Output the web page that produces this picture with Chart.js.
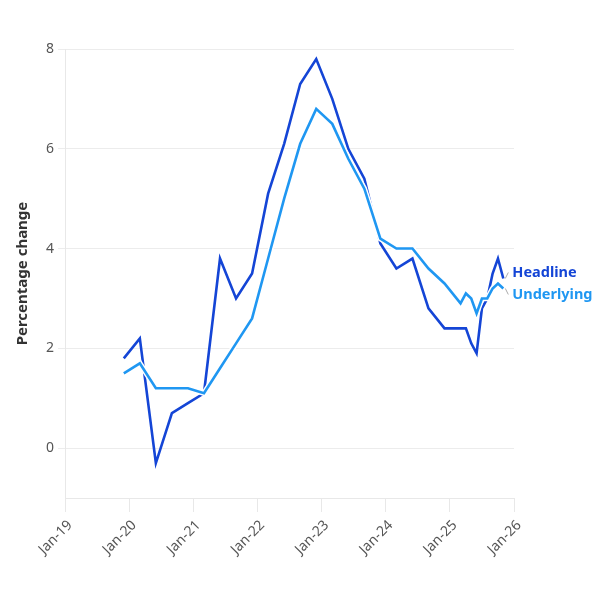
<!DOCTYPE html>
<html>
<head>
<meta charset="utf-8">
<script src="https://cdn.jsdelivr.net/npm/chart.js@4.4.1/dist/chart.umd.min.js"></script>
<style>
  html, body { margin: 0; padding: 0; background: #fff; }
  #wrap { width: 600px; height: 600px; }
</style>
</head>
<body>
<div id="wrap"><canvas id="chart"></canvas></div>
<script>
// quarterly to Mar-25, monthly after that
const months = [
    '2019-12', '2020-03', '2020-06', '2020-09', '2020-12',
    '2021-03', '2021-06', '2021-09', '2021-12',
    '2022-03', '2022-06', '2022-09', '2022-12',
    '2023-03', '2023-06', '2023-09', '2023-12',
    '2024-03', '2024-06', '2024-09', '2024-12',
    '2025-03', '2025-04', '2025-05', '2025-06', '2025-07',
    '2025-08', '2025-09', '2025-10', '2025-11'
];
const headline = [
    1.8, 2.2, -0.3, 0.7, 0.9,
    1.1, 3.8, 3.0, 3.5,
    5.1, 6.1, 7.3, 7.8,
    7.0, 6.0, 5.4, 4.1,
    3.6, 3.8, 2.8, 2.4,
    2.4, 2.4, 2.1, 1.9, 2.8,
    3.0, 3.5, 3.8, 3.4
];
const underlying = [
    1.5, 1.7, 1.2, 1.2, 1.2,
    1.1, 1.6, 2.1, 2.6,
    3.8, 5.0, 6.1, 6.8,
    6.5, 5.8, 5.2, 4.2,
    4.0, 4.0, 3.6, 3.3,
    2.9, 3.1, 3.0, 2.7, 3.0,
    3.0, 3.2, 3.3, 3.2
];
const yearTicks = [2019, 2020, 2021, 2022, 2023, 2024, 2025, 2026];

const HEAD_COLOR = '#1445d6';
const UNDER_COLOR = '#1f97f2';
const FONT = "'Noto Sans', 'Open Sans', sans-serif";

function toYear(m) {
    const [y, mo] = m.split('-').map(Number);
    return y + (mo - 1) / 12;
}

function series(values) {
    return values.map((v, i) => ({ x: toYear(months[i]), y: v }));
}

// labels at the end of each line, pushed apart if they collide
const endLabels = {
    id: 'endLabels',
    afterDatasetsDraw(chart) {
        const ctx = chart.ctx;
        const xs = chart.scales.x;
        const ys = chart.scales.y;
        const last = months.length - 1;
        const px = xs.getPixelForValue(toYear(months[last]));
        const hy = ys.getPixelForValue(headline[last]);
        const uy = ys.getPixelForValue(underlying[last]);
        let hl = hy, ul = uy;
        const gap = 22;
        if (Math.abs(ul - hl) < gap) {
            const mid = (hl + ul) / 2;
            hl = mid - gap / 2;
            ul = mid + gap / 2;
        }
        const items = [
            { text: 'Headline', color: HEAD_COLOR, py: hy, ly: hl },
            { text: 'Underlying', color: UNDER_COLOR, py: uy, ly: ul }
        ];
        ctx.save();
        ctx.font = 'bold 14.5px ' + FONT;
        ctx.textBaseline = 'middle';
        ctx.textAlign = 'left';
        items.forEach(it => {
            ctx.strokeStyle = '#aaaaaa';
            ctx.lineWidth = 1;
            ctx.beginPath();
            ctx.moveTo(px + 2, it.py);
            ctx.lineTo(px + 5, it.ly);
            ctx.stroke();
            ctx.fillStyle = it.color;
            ctx.fillText(it.text, px + 9, it.ly);
        });
        ctx.restore();
    }
};

new Chart(document.getElementById('chart'), {
    type: 'line',
    data: {
        datasets: [
            {
                label: 'Headline',
                data: series(headline),
                borderColor: HEAD_COLOR,
                borderWidth: 2.6,
                pointRadius: 0,
                tension: 0,
                order: 3
            },
            {
                label: 'casing',
                data: series(underlying),
                borderColor: '#ffffff',
                borderWidth: 5.5,
                pointRadius: 0,
                tension: 0,
                order: 2
            },
            {
                label: 'Underlying',
                data: series(underlying),
                borderColor: UNDER_COLOR,
                borderWidth: 2.6,
                pointRadius: 0,
                tension: 0,
                order: 1
            }
        ]
    },
    options: {
        responsive: true,
        maintainAspectRatio: false,
        animation: false,
        layout: {
            padding: { left: 10, right: 86, top: 49, bottom: 0 }
        },
        plugins: {
            legend: { display: false },
            tooltip: { enabled: false }
        },
        scales: {
            x: {
                type: 'linear',
                min: 2019,
                max: 2026,
                afterBuildTicks(scale) {
                    scale.ticks = yearTicks.map(v => ({ value: v }));
                },
                afterFit(scale) {
                    scale.height = 102;
                },
                ticks: {
                    minRotation: 45,
                    maxRotation: 45,
                    padding: 5,
                    labelOffset: 5,
                    color: '#555555',
                    font: { family: FONT, size: 14 },
                    callback: v => 'Jan-' + String(v).slice(2)
                },
                grid: {
                    drawOnChartArea: false,
                    drawTicks: true,
                    tickLength: 14,
                    color: '#e8e8e8'
                },
                border: { color: '#e8e8e8' }
            },
            y: {
                min: -1,
                max: 8,
                afterBuildTicks(scale) {
                    scale.ticks = [0, 2, 4, 6, 8].map(v => ({ value: v }));
                },
                afterFit(scale) {
                    scale.width = 55;
                },
                ticks: {
                    padding: 4,
                    color: '#555555',
                    font: { family: FONT, size: 14 }
                },
                grid: {
                    color: '#ececec',
                    tickLength: 7
                },
                border: { color: '#e8e8e8' },
                title: {
                    display: true,
                    text: 'Percentage change',
                    color: '#333333',
                    font: { family: FONT, size: 15, weight: 'bold' }
                }
            }
        }
    },
    plugins: [endLabels]
});
</script>
</body>
</html>
